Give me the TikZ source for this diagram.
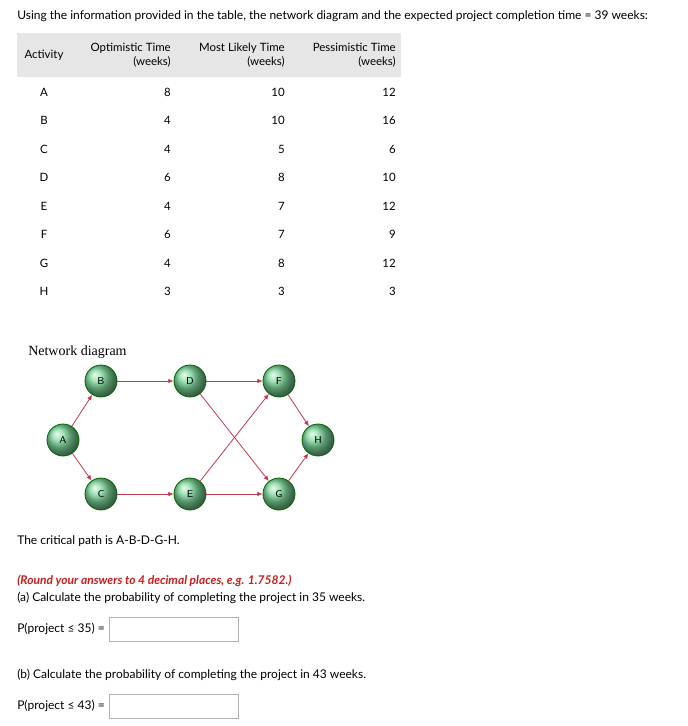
\documentclass[tikz,border=0pt]{standalone}
\usepackage{fontspec}
\setmainfont{Lato}
\newfontfamily\serifit{Liberation Serif}
\usetikzlibrary{arrows.meta}
\definecolor{hdr}{RGB}{230,230,230}
\definecolor{arr}{RGB}{190,60,80}
\definecolor{redtxt}{RGB}{200,30,30}
\definecolor{balcol}{RGB}{125,215,155}
\tikzset{
  txt/.style={font=\fontsize{9}{11}\selectfont, inner sep=0pt},
  htxt/.style={font=\fontsize{8.6}{10.5}\selectfont, inner sep=0pt},
  ball/.style={circle, minimum size=24pt, inner sep=0pt, shading=ball, ball color=balcol, draw=green!40!black, line width=0.6pt, font=\fontsize{7.5}{8}\sffamily},
  con/.style={draw=arr, line width=0.6pt, -{Latex[length=4pt,width=3.5pt]}},
  ansbox/.style={draw=gray!60, minimum width=96.75pt, minimum height=18pt, inner sep=0pt}
}
\begin{document}
\begin{tikzpicture}[x=0.75pt,y=-0.75pt]
\useasboundingbox (0,0) rectangle (688,726);
\fill[white] (0,0) rectangle (688,726);
\node[txt, anchor=west] (intro) at (17,16) {Using the information provided in the table, the network diagram and the expected project completion time = 39 weeks:};
\fill[hdr] (17,33) rectangle (401,77);
\node[htxt] (h0) at (44,55) {Activity};
\node[htxt, anchor=east, align=right] (h1) at (171,55) {Optimistic Time\\(weeks)};
\node[htxt, anchor=east, align=right] (h2) at (285,55) {Most Likely Time\\(weeks)};
\node[htxt, anchor=east, align=right] (h3) at (396,55) {Pessimistic Time\\(weeks)};
\foreach \a/\o/\m/\p [count=\i from 0] in {A/8/10/12,B/4/10/16,C/4/5/6,D/6/8/10,E/4/7/12,F/6/7/9,G/4/8/12,H/3/3/3}{
  \pgfmathsetmacro\yy{92+28.5*\i}
  \node[htxt] (a\i) at (44,\yy) {\a};
  \node[htxt, anchor=east] (o\i) at (171,\yy) {\o};
  \node[htxt, anchor=east] (m\i) at (285,\yy) {\m};
  \node[htxt, anchor=east] (p\i) at (396,\yy) {\p};
}
\node[font=\serifit\fontsize{10.5}{12}\selectfont, anchor=west, inner sep=0pt] (nd) at (28,352) {Network diagram};
\node[ball] (A) at (63,440) {A};
\node[ball] (B) at (101,381) {B};
\node[ball] (D) at (190,381) {D};
\node[ball] (F) at (279,381) {F};
\node[ball] (H) at (318,440) {H};
\node[ball] (C) at (101,494) {C};
\node[ball] (E) at (190,494) {E};
\node[ball] (G) at (279,494) {G};
\draw[con] (A) -- (B);
\draw[con] (A) -- (C);
\draw[con] (B) -- (D);
\draw[con] (D) -- (F);
\draw[con] (C) -- (E);
\draw[con] (E) -- (G);
\draw[con] (D) -- (G);
\draw[con] (E) -- (F);
\draw[con] (F) -- (H);
\draw[con] (G) -- (H);
\node[txt, anchor=west] (cp) at (17,541) {The critical path is A-B-D-G-H.};
\node[txt, anchor=west, text=redtxt, font=\fontsize{9}{11}\selectfont\bfseries\itshape] (rd) at (17,581) {(Round your answers to 4 decimal places, e.g. 1.7582.)};
\node[txt, anchor=west] (qa) at (17,598) {(a) Calculate the probability of completing the project in 35 weeks.};
\node[txt, anchor=west] (pa) at (17,629) {P(project ≤ 35) =};
\node[ansbox, anchor=west] (ba) at (109,629) {};
\node[txt, anchor=west] (qb) at (17,675) {(b) Calculate the probability of completing the project in 43 weeks.};
\node[txt, anchor=west] (pb) at (17,706) {P(project ≤ 43) =};
\node[ansbox, anchor=west] (bb) at (109,706) {};
\end{tikzpicture}
\end{document}
